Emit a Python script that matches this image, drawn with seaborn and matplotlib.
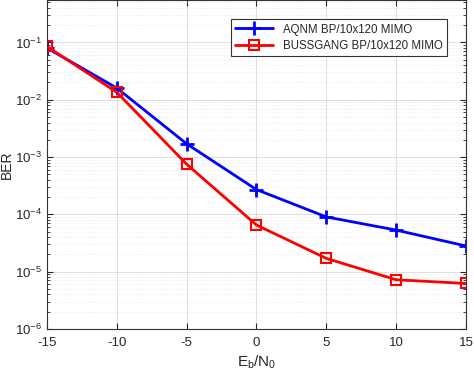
import numpy as np
import pandas as pd
import matplotlib
matplotlib.use("Agg")
import matplotlib.pyplot as plt
import seaborn as sns

# données
ebn0 = [-15, -10, -5, 0, 5, 10, 15]
ber_aqnm = [8.0e-2, 1.6e-2, 1.7e-3, 2.7e-4, 9.0e-5, 5.3e-5, 2.8e-5]
ber_bussgang = [8.5e-2, 1.35e-2, 7.5e-4, 6.5e-5, 1.7e-5, 7.2e-6, 6.2e-6]
labels = ["AQNM BP/10x120 MIMO", "BUSSGANG BP/10x120 MIMO"]
xticks = [-15, -10, -5, 0, 5, 10, 15]

sns.set_style("ticks")
plt.rcParams["font.family"] = ["Liberation Sans", "DejaVu Sans"]
plt.rcParams["mathtext.fontset"] = "custom"
plt.rcParams["mathtext.rm"] = "Liberation Sans"
plt.rcParams["mathtext.it"] = "Liberation Sans"

df = pd.DataFrame({"x": ebn0 * 2,
                   "ber": ber_aqnm + ber_bussgang,
                   "serie": [labels[0]] * len(ebn0) + [labels[1]] * len(ebn0)})

fig = plt.figure(figsize=(4.74, 3.75), dpi=100)
ax = fig.add_axes([0.099, 0.123, 0.884, 0.877])

sns.lineplot(data=df[df.serie == labels[0]], x="x", y="ber", color="#0000ff",
             marker="+", markersize=10, markeredgewidth=2, markeredgecolor="#0000ff",
             linewidth=2, label=labels[0], ax=ax)
sns.lineplot(data=df[df.serie == labels[1]], x="x", y="ber", color="#ff0000",
             marker="s", markersize=7, markerfacecolor="none", markeredgecolor="#ff0000",
             markeredgewidth=1.5, linewidth=2, label=labels[1], ax=ax)

ax.set_yscale("log")
ax.set_xlim(-15, 15)
ax.set_ylim(1e-6, 0.55)
ax.set_xticks(xticks)
ax.set_xticklabels([str(t) for t in xticks])
ax.set_yticks([1e-6, 1e-5, 1e-4, 1e-3, 1e-2, 1e-1])
ax.set_xlabel("$E_b/N_0$", fontsize=11, labelpad=3)
ax.set_ylabel("BER", fontsize=10)
ax.yaxis.set_label_coords(-0.078, 0.5)

ax.grid(True, which="major", color="#d9d9d9", linewidth=0.6)
ax.grid(True, which="minor", color="#e3e3e3", linewidth=0.5, linestyle=":")
ax.tick_params(which="both", direction="in", top=True, right=True, labelsize=9.5)
ax.tick_params(axis="x", pad=6)
ax.tick_params(which="major", length=4)
ax.tick_params(which="minor", length=2)
for s in ax.spines.values():
    s.set_color("#333333")
    s.set_linewidth(0.8)

leg = ax.legend(loc="upper right", fontsize=8.3, frameon=True, fancybox=False,
                edgecolor="#333333", framealpha=1, handlelength=3.3,
                borderpad=0.4, labelspacing=0.35, bbox_to_anchor=(0.969, 0.96))
leg.get_frame().set_linewidth(0.8)

fig.savefig("out.png", dpi=100)
